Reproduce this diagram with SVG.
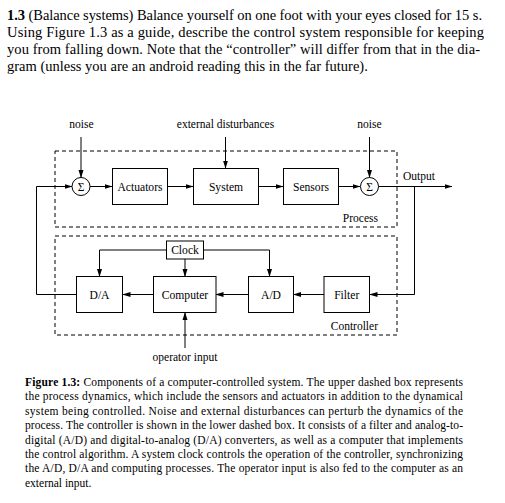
<svg xmlns="http://www.w3.org/2000/svg" width="505" height="503" viewBox="0 0 505 503">
<style>
text{font-family:"Liberation Serif","Times New Roman",serif;fill:#000}
.p{font-size:14.5px}
.c{font-size:11.6px}
.l{font-size:11.5px}
.box{fill:#fff;stroke:#000;stroke-width:1}
.dash{fill:none;stroke:#000;stroke-width:1;stroke-dasharray:4,3}
.w{fill:none;stroke:#000;stroke-width:1}
</style>
<defs>
<marker id="ah" markerWidth="8" markerHeight="6" refX="7.5" refY="3" orient="auto" markerUnits="userSpaceOnUse">
<path d="M0,0.5 L8,3 L0,5.5 Z" fill="#000"/>
</marker>
</defs>
<rect width="505" height="503" fill="#fff"/>
<g id="problem">
<text class="p" x="7" y="20" textLength="475" lengthAdjust="spacing"><tspan font-weight="bold">1.3</tspan> (Balance systems) Balance yourself on one foot with your eyes closed for 15 s.</text>
<text class="p" x="7" y="37" textLength="477" lengthAdjust="spacing">Using Figure 1.3 as a guide, describe the control system responsible for keeping</text>
<text class="p" x="7" y="54" textLength="473" lengthAdjust="spacing">you from falling down. Note that the “controller” will differ from that in the dia-</text>
<text class="p" x="7" y="71">gram (unless you are an android reading this in the far future).</text>
</g>
<g id="process-box">
<rect class="dash" x="55" y="151" width="342" height="76"/>
<text class="l" x="378" y="222" text-anchor="end">Process</text>
</g>
<g id="controller-box">
<rect class="dash" x="55" y="236" width="342" height="99"/>
<text class="l" x="378" y="330" text-anchor="end">Controller</text>
</g>
<g id="connectors">
<line class="w" x1="81" y1="137" x2="81" y2="177.5" marker-end="url(#ah)"/>
<line class="w" x1="369.5" y1="137" x2="369.5" y2="177.5" marker-end="url(#ah)"/>
<line class="w" x1="225.5" y1="137" x2="225.5" y2="168" marker-end="url(#ah)"/>
<line class="w" x1="90" y1="186.5" x2="112" y2="186.5" marker-end="url(#ah)"/>
<line class="w" x1="167.5" y1="186.5" x2="193" y2="186.5" marker-end="url(#ah)"/>
<line class="w" x1="258.5" y1="186.5" x2="283" y2="186.5" marker-end="url(#ah)"/>
<line class="w" x1="338.5" y1="186.5" x2="360" y2="186.5" marker-end="url(#ah)"/>
<line class="w" x1="378.5" y1="186.5" x2="452" y2="186.5" marker-end="url(#ah)"/>
<polyline class="w" points="414.5,186.5 414.5,294.5 370,294.5" marker-end="url(#ah)"/>
<line class="w" x1="324" y1="294.5" x2="293.5" y2="294.5" marker-end="url(#ah)"/>
<line class="w" x1="248.5" y1="294.5" x2="216" y2="294.5" marker-end="url(#ah)"/>
<line class="w" x1="153.5" y1="294.5" x2="123" y2="294.5" marker-end="url(#ah)"/>
<polyline class="w" points="76.5,294.5 36.5,294.5 36.5,186.5 72,186.5" marker-end="url(#ah)"/>
<polyline class="w" points="166.5,250 99.5,250 99.5,276.5" marker-end="url(#ah)"/>
<line class="w" x1="185" y1="259" x2="185" y2="276.5" marker-end="url(#ah)"/>
<polyline class="w" points="203.5,250 269.5,250 269.5,276.5" marker-end="url(#ah)"/>
<line class="w" x1="185" y1="348" x2="185" y2="312.5" marker-end="url(#ah)"/>
</g>
<g id="labels">
<text class="l" x="81.5" y="128" text-anchor="middle">noise</text>
<text class="l" x="225.5" y="128" text-anchor="middle">external disturbances</text>
<text class="l" x="369.5" y="128" text-anchor="middle">noise</text>
<text class="l" x="403" y="180">Output</text>
<text class="l" x="185" y="361" text-anchor="middle">operator input</text>
</g>
<g id="sum1">
<circle class="box" cx="81" cy="186.5" r="9"/>
<text class="l" x="81" y="190.5" text-anchor="middle" font-size="10">Σ</text>
</g>
<g id="sum2">
<circle class="box" cx="369.5" cy="186.5" r="9"/>
<text class="l" x="369.5" y="190.5" text-anchor="middle" font-size="10">Σ</text>
</g>
<g id="actuators">
<rect class="box" x="112.5" y="168.5" width="55" height="36"/>
<text class="c" x="140" y="190.5" text-anchor="middle">Actuators</text>
</g>
<g id="system">
<rect class="box" x="193.5" y="168.5" width="65" height="36"/>
<text class="c" x="226" y="190.5" text-anchor="middle">System</text>
</g>
<g id="sensors">
<rect class="box" x="283.5" y="168.5" width="55" height="36"/>
<text class="c" x="311" y="190.5" text-anchor="middle">Sensors</text>
</g>
<g id="clock">
<rect class="box" x="166.5" y="241" width="37" height="18"/>
<text class="c" x="185" y="254" text-anchor="middle">Clock</text>
</g>
<g id="da">
<rect class="box" x="76.5" y="276.5" width="46" height="36"/>
<text class="c" x="99.5" y="298.5" text-anchor="middle">D/A</text>
</g>
<g id="computer">
<rect class="box" x="153.5" y="276.5" width="62.5" height="36"/>
<text class="c" x="185" y="298.5" text-anchor="middle">Computer</text>
</g>
<g id="ad">
<rect class="box" x="248.5" y="276.5" width="45" height="36"/>
<text class="c" x="271" y="298.5" text-anchor="middle">A/D</text>
</g>
<g id="filter">
<rect class="box" x="324" y="276.5" width="45.5" height="36"/>
<text class="c" x="346.7" y="298.5" text-anchor="middle">Filter</text>
</g>
<g id="caption" class="l">
<text class="l" x="25" y="386" textLength="438" lengthAdjust="spacing"><tspan font-weight="bold">Figure 1.3:</tspan> Components of a computer-controlled system. The upper dashed box represents</text>
<text class="l" x="25" y="400.4" textLength="438" lengthAdjust="spacing">the process dynamics, which include the sensors and actuators in addition to the dynamical</text>
<text class="l" x="25" y="414.8" textLength="438" lengthAdjust="spacing">system being controlled. Noise and external disturbances can perturb the dynamics of the</text>
<text class="l" x="25" y="429.2" textLength="438" lengthAdjust="spacing">process. The controller is shown in the lower dashed box. It consists of a filter and analog-to-</text>
<text class="l" x="25" y="443.6" textLength="438" lengthAdjust="spacing">digital (A/D) and digital-to-analog (D/A) converters, as well as a computer that implements</text>
<text class="l" x="25" y="458" textLength="438" lengthAdjust="spacing">the control algorithm. A system clock controls the operation of the controller, synchronizing</text>
<text class="l" x="25" y="472.4" textLength="438" lengthAdjust="spacing">the A/D, D/A and computing processes. The operator input is also fed to the computer as an</text>
<text class="l" x="25" y="486.8">external input.</text>
</g>
</svg>
